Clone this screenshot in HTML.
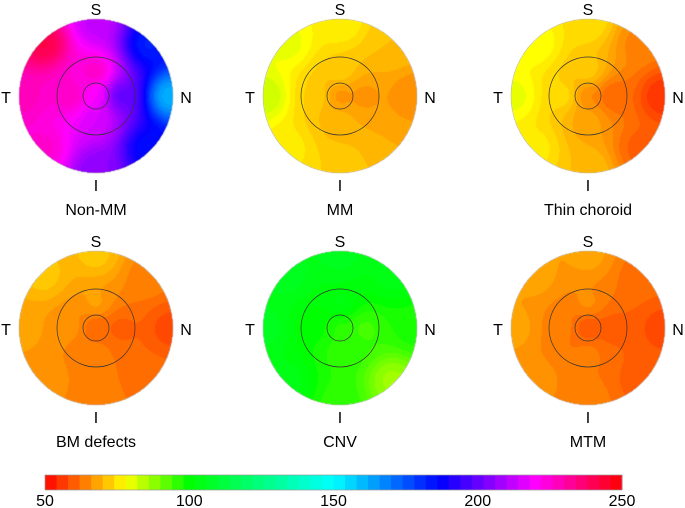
<!DOCTYPE html>
<html><head><meta charset="utf-8"><style>
body{margin:0;background:#fff;width:685px;height:508px;overflow:hidden;position:relative;font-family:"Liberation Sans",Arial,sans-serif}
canvas{position:absolute;left:0;top:0}
svg{position:absolute;left:0;top:0}
text{font-family:"Liberation Sans",Arial,sans-serif;fill:#000}
</style></head><body>
<canvas id="cv" width="685" height="508"></canvas>
<svg id="sv" width="685" height="508"></svg>
<script>
// values at: center, inner S,N,I,T, outer S,SN,N,NI,I,IT,T,TS
const titles=["Non-MM","MM","Thin choroid","BM defects","CNV","MTM"];
const nonMM=[220,228,198,215,228, 212,182,160,185,205,226,228,242];
const mm=[65,73,66,70,73, 77,71,65,69,73,76,83,80];
const thin=[64,73,60,68,75, 75,64,55,60,71,76,80,79];
const bm=[60,68,60,64,66, 72,64,58,62,64,66,68,72];
const cnv=[96,104,94,96,100, 106,104,98,86,96,104,106,106];
const mtm=[58,66,60,64,64, 68,62,58,60,64,66,68,68];
const series=[nonMM,mm,thin,bm,cnv,mtm];
const ticks=[50,100,150,200,250];
const cx=[96,340,588], cy=[96,328], R=77;
const s=Math.SQRT1_2, r1=0.3, r2=0.95;
const pts=[[0,0],[0,-r1],[r1,0],[0,r1],[-r1,0],
 [0,-r2],[r2*s,-r2*s],[r2,0],[r2*s,r2*s],[0,r2],[-r2*s,r2*s],[-r2,0],[-r2*s,-r2*s]];
function hue(v){const k=[[50,0],[78,60],[100,120],[150,180],[187,240],[220,300],[250,360]];
 v=Math.max(50,Math.min(250,v));for(let i=1;i<k.length;i++)if(v<=k[i][0]){const a=k[i-1],b=k[i];return a[1]+(b[1]-a[1])*(v-a[0])/(b[0]-a[0]);}return 360;}
function col(v){return `hsl(${hue(v)%360},100%,50%)`;}
const ctx=document.getElementById('cv').getContext('2d');
series.forEach((vals,i)=>{
 const x0=cx[i%3],y0=cy[Math.floor(i/3)];
 for(let y=-R;y<R;y+=1)for(let x=-R;x<R;x+=1){
  const px=(x+0.5)/R,py=(y+0.5)/R; if(px*px+py*py>1)continue;
  let sw=0,sv=0;
  pts.forEach((p,j)=>{const d=(px-p[0])**2+(py-p[1])**2+0.02;const w=1/(d**1.5);sw+=w;sv+=w*vals[j];});
  let v=sv/sw; v=50+Math.round((v-50)/2)*2; ctx.fillStyle=col(v);ctx.fillRect(x0+x,y0+y,1,1);
 }
});
const NS="http://www.w3.org/2000/svg",sv=document.getElementById('sv');
function el(t,a,txt){const e=document.createElementNS(NS,t);for(const k in a)e.setAttribute(k,a[k]);if(txt!==undefined)e.textContent=txt;sv.appendChild(e);return e;}
titles.forEach((t,i)=>{
 const x0=cx[i%3],y0=cy[Math.floor(i/3)];
 let c=el('circle',{cx:x0,cy:y0,r:R,fill:'none',stroke:'#bbb','stroke-width':0.6});
 
 c=el('circle',{cx:x0,cy:y0,r:39,fill:'none',stroke:'#333','stroke-width':0.7});
 
 c=el('circle',{cx:x0,cy:y0,r:13,fill:'none',stroke:'#333','stroke-width':0.7});
 
 const L=[['S',x0,y0-81],['I',x0,y0+95],['T',x0-90,y0+7],['N',x0+90,y0+7]];
 L.forEach(l=>{const e=el('text',{x:l[1],y:l[2],'font-size':16,'text-anchor':'middle'},l[0]);
  });
 const e=el('text',{x:x0,y:y0+119,'font-size':16,'text-anchor':'middle'},t);
 
});
// colorbar
const bx=45,bw=577,by=475,bh=15,n=50;
for(let k=0;k<n;k++){const v=50+(k+0.5)*200/n;
 const r=el('rect',{x:bx+k*bw/n,y:by,width:bw/n+0.5,height:bh,fill:col(v)});
 }
let fr=el('rect',{x:bx,y:by,width:bw,height:bh,fill:'none',stroke:'#999','stroke-width':0.7});

ticks.forEach(t=>{const x=bx+(t-50)/200*bw;
 const e=el('text',{x:x,y:506,'font-size':16,'text-anchor':'middle'},t);
 });
</script>
</body></html>
